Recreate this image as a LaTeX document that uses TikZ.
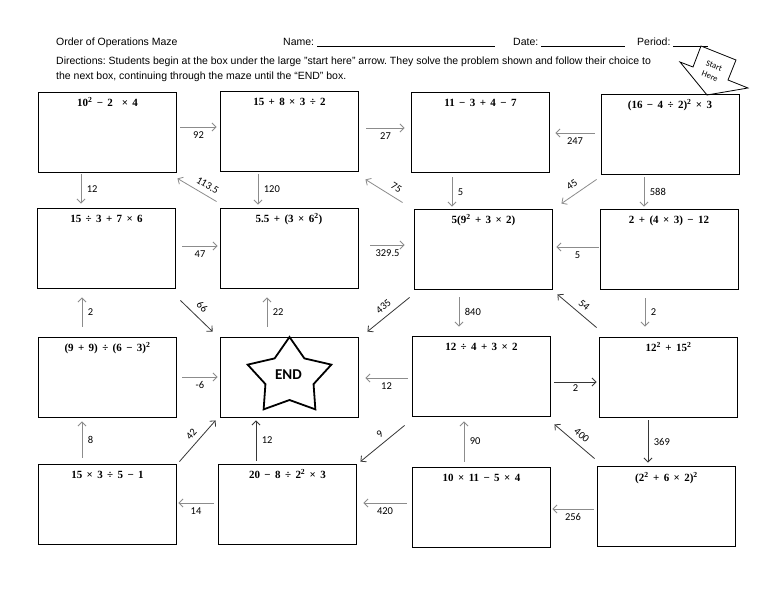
\documentclass[tikz,border=0pt]{standalone}
\usepackage[no-math]{fontspec}
\setmainfont{Liberation Sans}
\newfontfamily\calfont{Carlito}
\newfontfamily\fmlfont{Liberation Serif}[WordSpace=1.6]
\newcommand{\supr}[1]{\textsuperscript{#1}}
\frenchspacing
\usetikzlibrary{arrows.meta}
\definecolor{lgray}{RGB}{140,140,140}
\definecolor{dgray}{RGB}{55,55,55}
\begin{document}
\begin{tikzpicture}[x=1pt,y=-1pt,
  box/.style={draw, line width=0.9pt, minimum width=138pt, minimum height=80pt, inner sep=0pt},
  fml/.style={anchor=base, inner sep=0pt, font=\fmlfont\bfseries\fontsize{11}{12}\selectfont},
  conn/.style={-{Straight Barb[length=4pt,width=8pt]}, line width=0.8pt},
  ga/.style={conn, draw=lgray},
  ka/.style={conn, draw=dgray},
  lbl/.style={font=\calfont\fontsize{10.5}{12}\selectfont, inner sep=1.5pt, text=black},
  hdr/.style={anchor=base west, inner sep=0pt, font=\fontsize{10.5}{12}\selectfont}
]
\useasboundingbox[fill=white] (0,0) rectangle (768,594);

% header
\node[hdr] (title) at (56,46) {Order of Operations Maze};
\node[hdr] (name) at (283,46) {Name: \rule[-1pt]{178pt}{0.5pt}};
\node[hdr] (date) at (513,46) {Date: \rule[-1pt]{84pt}{0.5pt}};
\node[hdr] (period) at (637,46) {Period: \rule[-1pt]{35pt}{0.5pt}};
\node[hdr] (dir1) at (56,65) {Directions: Students begin at the box under the large "start here" arrow. They solve the problem shown and follow their choice to};
\node[hdr] (dir2) at (56,79) {the next box, continuing through the maze until the “END” box.};

% start here arrow
\draw[line width=0.8pt, fill=white, line join=miter] (707,95) -- (680,62) -- (693,67) -- (701,46) -- (736,60) -- (728,80) -- (748,88) -- cycle;
\node[rotate=-22, align=center, font=\calfont\fontsize{8.5}{11}\selectfont, inner sep=0pt] (start) at (712,71) {Start\\Here};

% boxes
\node[box] (b1) at (107.5,132) {};
\node[box] (b2) at (289.5,131) {};
\node[box] (b3) at (480.5,132) {};
\node[box] (b4) at (670,134) {};
\node[box] (b5) at (106.5,248) {};
\node[box] (b6) at (289,248) {};
\node[box] (b7) at (483.5,249) {};
\node[box] (b8) at (669,249) {};
\node[box] (b9) at (107.5,377) {};
\node[box] (b10) at (289.5,377) {};
\node[box] (b11) at (481.5,376) {};
\node[box] (b12) at (668.5,377) {};
\node[box] (b13) at (107.5,504) {};
\node[box] (b14) at (287.5,504) {};
\node[box] (b15) at (481.5,507) {};
\node[box] (b16) at (666.5,506.5) {};

% formulas
\node[fml] (f1) at ([shift={(0,15)}]b1.north) {10\supr{2} − 2 \ × 4};
\node[fml] (f2) at ([shift={(0,15)}]b2.north) {15 + 8 × 3 ÷ 2};
\node[fml] (f3) at ([shift={(0,15)}]b3.north) {11 − 3 + 4 − 7};
\node[fml] (f4) at ([shift={(0,15)}]b4.north) {(16 − 4 ÷ 2)\supr{2} × 3};
\node[fml] (f5) at ([shift={(0,15)}]b5.north) {15 ÷ 3 + 7 × 6};
\node[fml] (f6) at ([shift={(0,15)}]b6.north) {5.5 + (3 × 6\supr{2})};
\node[fml] (f7) at ([shift={(0,15)}]b7.north) {5(9\supr{2} + 3 × 2)};
\node[fml] (f8) at ([shift={(0,15)}]b8.north) {2 + (4 × 3) − 12};
\node[fml] (f9) at ([shift={(0,15)}]b9.north) {(9 + 9) ÷ (6 − 3)\supr{2}};
\node[fml] (f11) at ([shift={(0,15)}]b11.north) {12 ÷ 4 + 3 × 2};
\node[fml] (f12) at ([shift={(0,15)}]b12.north) {12\supr{2} + 15\supr{2}};
\node[fml] (f13) at ([shift={(0,15)}]b13.north) {15 × 3 ÷ 5 − 1};
\node[fml] (f14) at ([shift={(0,15)}]b14.north) {20 − 8 ÷ 2\supr{2} × 3};
\node[fml] (f15) at ([shift={(0,15)}]b15.north) {10 × 11 − 5 × 4};
\node[fml] (f16) at ([shift={(0,15)}]b16.north) {(2\supr{2} + 6 × 2)\supr{2}};

% END star
\begin{scope}[shift={(b10.center)}]
\draw[line width=1.8pt, line join=miter, xscale=1.1]
  (270:40) -- (306:23) -- (342:40) -- (18:23) -- (54:40) -- (90:23)
  -- (126:40) -- (162:23) -- (198:40) -- (234:23) -- cycle;
\end{scope}
\node[font=\calfont\bfseries\fontsize{15}{16}\selectfont, inner sep=0pt] (endtxt) at ([shift={(-1,-2)}]b10.center) {END};

% connectors, row 1
\draw[ga] ([shift={(3.5,-5)}]b1.east) -- node[lbl,below=3pt]{92} ([shift={(-3.5,-4)}]b2.west);
\draw[ga] ([shift={(7.5,-3)}]b2.east) -- node[lbl,below=3pt]{27} ([shift={(-6.5,-4)}]b3.west);
\draw[ga] ([shift={(-6,-1)}]b4.west) -- node[lbl,below=3pt]{247} ([shift={(5.5,1)}]b3.east);
% row 1 -> row 2
\draw[ga] ([shift={(-26.5,2)}]b1.south) -- node[lbl,right=4pt]{12} ([shift={(-25.5,-4)}]b5.north);
\draw[ga] ([shift={(-3,-6)}]b6.north west) -- node[lbl,sloped,above=4pt,pos=0.35]{113.5} ([shift={(0.5,6)}]b1.south east);
\draw[ga] ([shift={(-31.5,3)}]b2.south) -- node[lbl,right=4pt]{120} ([shift={(-31,-3)}]b6.north);
\draw[ga] ([shift={(-11.5,-6)}]b7.north west) -- node[lbl,sloped,above=4pt,pos=0.3]{75} ([shift={(6.5,8)}]b2.south east);
\draw[ga] ([shift={(-28.5,5)}]b3.south) -- node[lbl,right=4pt]{5} ([shift={(-31.5,-2)}]b7.north);
\draw[ga] ([shift={(-4,5)}]b4.south west) -- node[lbl,sloped,above=4pt,pos=0.55]{45} ([shift={(8.5,-5)}]b7.north east);
\draw[ga] ([shift={(-26,3)}]b4.south) -- node[lbl,right=4pt]{588} ([shift={(-25,-2)}]b8.north);
% row 2
\draw[ga] ([shift={(6.5,-2)}]b5.east) -- node[lbl,below=3pt]{47} ([shift={(-2,-2)}]b6.west);
\draw[ga] ([shift={(12,-3)}]b6.east) -- node[lbl,below=3pt]{329.5} ([shift={(-9.5,-4)}]b7.west);
\draw[ga] ([shift={(-1,-2)}]b8.west) -- node[lbl,below=3pt]{5} ([shift={(3.5,-2)}]b7.east);
% row 2 <-> row 3
\draw[ga] ([shift={(-25.5,-10)}]b9.north) -- node[lbl,right=4pt]{2} ([shift={(-24.5,9)}]b5.south);
\draw[ka] ([shift={(4.5,12)}]b5.south east) -- node[lbl,sloped,above=5pt,pos=0.45]{66} ([shift={(-7.5,-5)}]b10.north west);
\draw[ga] ([shift={(-22.5,-10)}]b10.north) -- node[lbl,right=4pt]{22} ([shift={(-22,9)}]b6.south);
\draw[ka] ([shift={(-4.5,8)}]b7.south west) -- node[lbl,sloped,above=4pt,pos=0.48]{435} ([shift={(8.5,-5)}]b10.north east);
\draw[ga] ([shift={(-24.5,8)}]b7.south) -- node[lbl,right=4pt]{840} ([shift={(-22.5,-9)}]b11.north);
\draw[ka] ([shift={(-2.5,-9)}]b12.north west) -- node[lbl,sloped,above=4pt,pos=0.47]{54} ([shift={(4.5,5)}]b7.south east);
\draw[ga] ([shift={(-24,9)}]b8.south) -- node[lbl,right=4pt]{2} ([shift={(-23.5,-10)}]b12.north);
% row 3
\draw[ga] ([shift={(5.5,0)}]b9.east) -- node[lbl,below=3pt]{-6} ([shift={(-2.5,0)}]b10.west);
\draw[ga] ([shift={(-4.5,2)}]b11.west) -- node[lbl,below=3pt]{12} ([shift={(6.5,1)}]b10.east);
\draw[ka] ([shift={(3.5,6)}]b11.east) -- node[lbl,below=1pt]{2} ([shift={(-2.5,5)}]b12.west);
% row 3 <-> row 4
\draw[ga] ([shift={(-25.5,-6)}]b13.north) -- node[lbl,right=4pt]{8} ([shift={(-25.5,4)}]b9.south);
\draw[ka] ([shift={(2.5,-2)}]b13.north east) -- node[lbl,sloped,above=4pt,pos=0.52]{42} ([shift={(-4.5,3)}]b10.south west);
\draw[ka] ([shift={(-31.5,-3)}]b14.north) -- node[lbl,right=4pt]{12} ([shift={(-33.5,3)}]b10.south);
\draw[ka] ([shift={(-7.5,9)}]b11.south west) -- node[lbl,sloped,above=4pt,pos=0.43]{9} ([shift={(3.5,-2)}]b14.north east);
\draw[ga] ([shift={(-17.5,-5)}]b15.north) -- node[lbl,right=4pt]{90} ([shift={(-17.5,5)}]b11.south);
\draw[ka] ([shift={(-2.5,-7.5)}]b16.north west) -- node[lbl,sloped,above=4pt,pos=0.47]{400} ([shift={(3.5,8)}]b11.south east);
\draw[ka] ([shift={(-20.5,3)}]b12.south) -- node[lbl,right=4pt]{369} ([shift={(-18.5,-3.5)}]b16.north);
% row 4
\draw[ga] ([shift={(-4.5,-1)}]b14.west) -- node[lbl,below=3pt]{14} ([shift={(1.5,-1)}]b13.east);
\draw[ga] ([shift={(-5.5,-4)}]b15.west) -- node[lbl,below=3pt]{420} ([shift={(6.5,-1)}]b14.east);
\draw[ga] ([shift={(-3.5,2.5)}]b16.west) -- node[lbl,below=3pt]{256} ([shift={(1.5,2)}]b15.east);
\end{tikzpicture}
\end{document}
